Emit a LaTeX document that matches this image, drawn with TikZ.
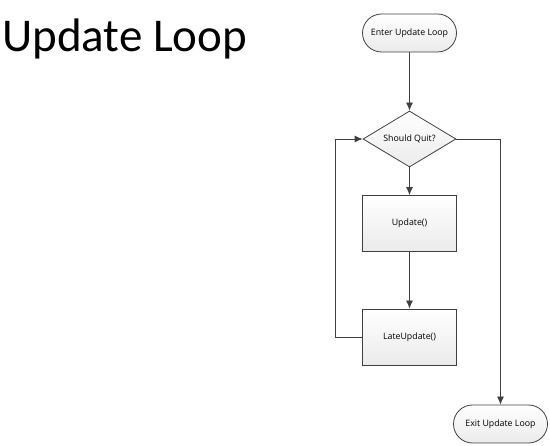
\documentclass[tikz,border=0pt]{standalone}
\usepackage{fontspec}
\setmainfont{Open Sans}
\newfontfamily\titlefont{Carlito}
\usetikzlibrary{shapes.geometric,arrows.meta}
\tikzset{
  flowbox/.style={draw=black!75,line width=0.8pt,top color=white,bottom color=black!8,
    minimum width=94pt,minimum height=56pt,font=\fontsize{8.8}{10}\selectfont,inner sep=0pt},
  terminal/.style={flowbox,rounded corners=19pt,minimum height=38pt},
  decision/.style={flowbox,diamond,aspect=1.66,minimum width=93pt,minimum height=56pt},
  flowline/.style={draw=black!75,line width=0.8pt,-{Latex[length=8pt,width=7pt]}},
}
\begin{document}
\begin{tikzpicture}[x=1pt,y=-1pt]
\useasboundingbox (0,0) rectangle (550,446);
\node[anchor=base west,inner sep=0pt,font=\titlefont\fontsize{47}{47}\selectfont] (title) at (2,52) {Update Loop};
\node[terminal] (enter) at (409.5,33) {Enter Update Loop};
\node[decision] (quit) at (409.5,139) {Should Quit?};
\node[flowbox] (update) at (409.5,223.5) {Update()};
\node[flowbox] (late) at (409.5,337) {LateUpdate()};
\node[terminal] (exit) at (500.5,424) {Exit Update Loop};
\coordinate (loopleft) at (335,0);
\draw[flowline] (enter) -- (quit);
\draw[flowline] (quit) -- (update);
\draw[flowline] (update) -- (late);
\draw[flowline] (late.west) -| (loopleft |- quit.west) -- (quit.west);
\draw[flowline] (quit.east) -| (exit.north);
\end{tikzpicture}
\end{document}
